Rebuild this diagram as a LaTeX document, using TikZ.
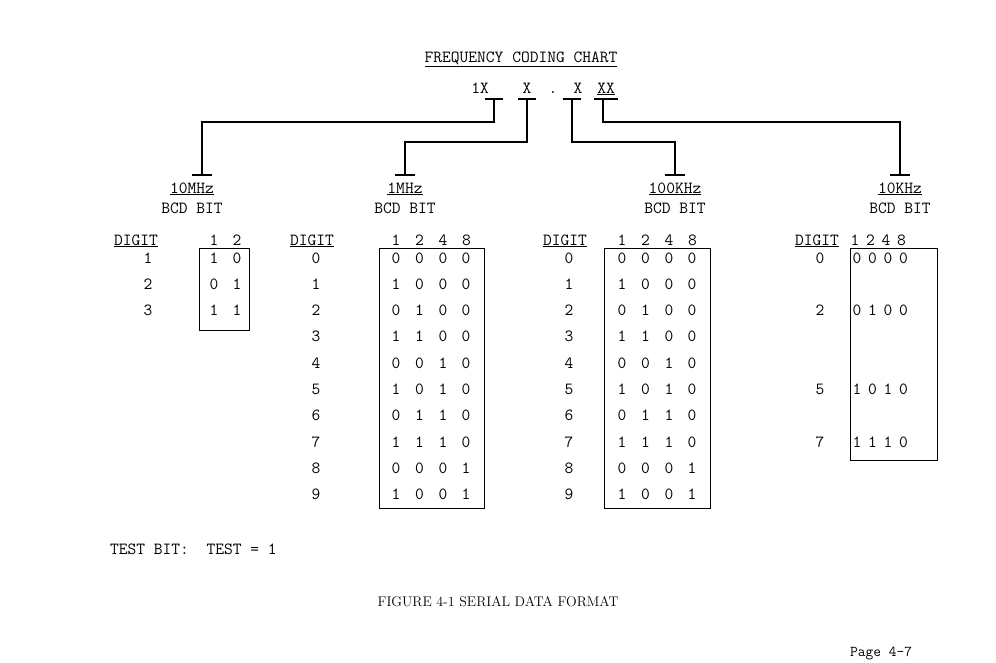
\documentclass[tikz,border=0pt]{standalone}
\begin{document}
\begin{tikzpicture}[x=1pt,y=-1pt,
  tt/.style={font=\fontsize{17}{19}\selectfont\ttfamily,inner sep=0pt,anchor=base},
  ln/.style={line width=1.3pt},
  bx/.style={draw,line width=1.3pt}]
\useasboundingbox (0,0) rectangle (996,662);
% title
\node[tt] (title) at (521,62) {\underline{FREQUENCY CODING CHART}};
\node[tt] (c1) at (480,93) {1X};
\node[tt] (c2) at (527,93) {X};
\node[tt] (dot) at (553,93) {.};
\node[tt] (c3) at (578,93) {X};
\node[tt] (c4) at (606,93) {\underline{XX}};
% tee connectors
\coordinate (t1) at (494,99);
\coordinate (t2) at (527,99);
\coordinate (t3) at (572,99);
\coordinate (t4) at (603,99);
\draw[ln] (485,99)--(503,99) (518,99)--(536,99) (563,99)--(581,99) (594,99)--(618,99);
\node[tt] (l1) at (192,193) {\underline{10MHz}};
\node[tt] (l2) at (405,193) {\underline{1MHz}};
\node[tt] (l3) at (675,193) {\underline{100KHz}};
\node[tt] (l4) at (900,193) {\underline{10KHz}};
\coordinate (b1) at (202,175);
\coordinate (b2) at (405,175);
\coordinate (b3) at (675,175);
\coordinate (b4) at (900,175);
\draw[ln] (t1)--(494,122)--(202,122)--(b1);
\draw[ln] (t2)--(527,142)--(405,142)--(b2);
\draw[ln] (t3)--(572,142)--(675,142)--(b3);
\draw[ln] (t4)--(603,122)--(900,122)--(b4);
\foreach \x in {202,405,675,900} \draw[ln] (\x-10,175)--(\x+10,175);
\foreach \x/\n in {192/a,405/b,675/c,900/d} \node[tt] (bcd\n) at (\x,213) {BCD BIT};
% 10MHz table
\node[tt] (dg1) at (136,245) {\underline{DIGIT}};
\node[tt] (h11) at (214,245) {1};
\node[tt] (h12) at (237,245) {2};
\node[bx,minimum width=50,minimum height=82,anchor=north west,inner sep=0pt] (box1) at (199,248) {};
\foreach \d/\a/\b [count=\k from 0] in {1/1/0,2/0/1,3/1/1}{
  \node[tt] (r1d\k) at (148,263+26.3*\k) {\d};
  \node[tt] at (214,263+26.3*\k) {\a};
  \node[tt] at (237,263+26.3*\k) {\b};}
% 1MHz and 100KHz tables
\foreach \T/\dx/\cx/\bl/\bw in {m/312/396/379/105,k/565/622/604/106}{
  \node[tt] (dg\T) at (\dx,245) {\underline{DIGIT}};
  \foreach \h [count=\j from 0] in {1,2,4,8}
    \node[tt] (h\T\j) at (\cx+23.5*\j,245) {\h};
  \node[bx,minimum width=\bw,minimum height=260,anchor=north west,inner sep=0pt] (box\T) at (\bl,248) {};
  \foreach \d/\a/\b/\c/\e [count=\k from 0] in {0/0/0/0/0,1/1/0/0/0,2/0/1/0/0,3/1/1/0/0,4/0/0/1/0,5/1/0/1/0,6/0/1/1/0,7/1/1/1/0,8/0/0/0/1,9/1/0/0/1}{
    \node[tt] (r\T\k) at (\dx+4,263+26.3*\k) {\d};
    \node[tt] at (\cx,263+26.3*\k) {\a};
    \node[tt] at (\cx+23.5,263+26.3*\k) {\b};
    \node[tt] at (\cx+47,263+26.3*\k) {\c};
    \node[tt] at (\cx+70,263+26.3*\k) {\e};}}
% 10KHz table
\node[tt] (dg4) at (817,245) {\underline{DIGIT}};
\foreach \h [count=\j from 0] in {1,2,4,8} \node[tt] (h4\j) at (855+15.5*\j,245) {\h};
\node[bx,minimum width=87,minimum height=212,anchor=north west,inner sep=0pt] (box4) at (850,248) {};
\foreach \d/\a/\b/\c/\e/\k in {0/0/0/0/0/0,2/0/1/0/0/2,5/1/0/1/0/5,7/1/1/1/0/7}{
  \node[tt] (r4\d) at (820,263+26.3*\k) {\d};
  \node[tt] at (857,263+26.3*\k) {\a};
  \node[tt] at (872.5,263+26.3*\k) {\b};
  \node[tt] at (888,263+26.3*\k) {\c};
  \node[tt] at (903.5,263+26.3*\k) {\e};}
% bottom texts
\node[tt,anchor=base west] (test) at (110,554) {TEST BIT:\ \ TEST = 1};
\node[font=\fontsize{14}{16}\selectfont,inner sep=0pt,anchor=base] (fig) at (498,606) {FIGURE 4-1 SERIAL DATA FORMAT};
\node[font=\fontsize{15}{17}\selectfont\ttfamily,inner sep=0pt,anchor=base west] (page) at (850,656) {Page 4-7};
\end{tikzpicture}
\end{document}
